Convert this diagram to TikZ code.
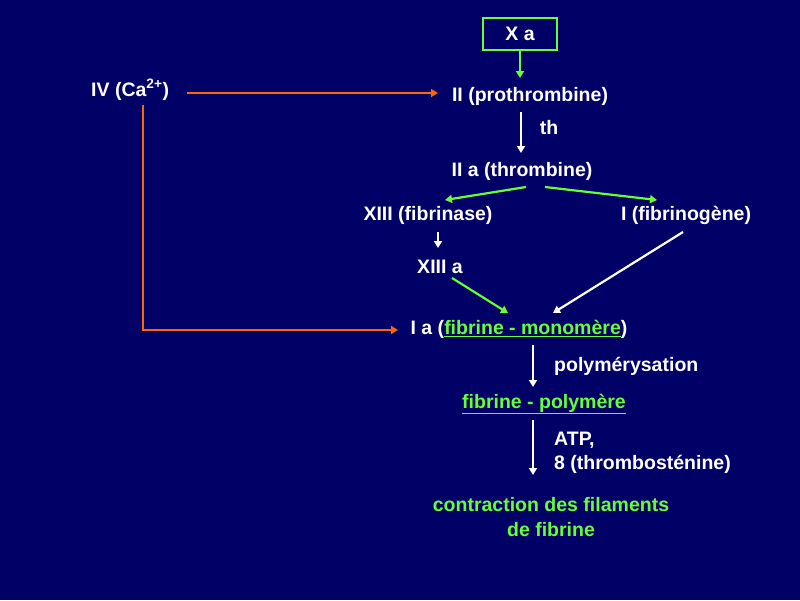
\documentclass[tikz,border=0pt]{standalone}
\usepackage{fontspec}
\setmainfont{Liberation Sans}
\usetikzlibrary{arrows.meta}
\definecolor{bg}{HTML}{000066}
\definecolor{gr}{HTML}{66FF33}
\definecolor{og}{HTML}{FF6600}
\begin{document}
\begin{tikzpicture}[x=1pt,y=-1pt,
  t/.style={text=white,font=\fontsize{19.5}{24.5}\selectfont\bfseries,inner sep=1pt},
  ga/.style={draw=gr,line width=2.2pt,-{Triangle[length=7pt,width=8pt]}},
  wa/.style={draw=white,line width=2.2pt,-{Triangle[length=7pt,width=8pt]}},
  oa/.style={draw=og,line width=2.2pt,-{Triangle[length=7pt,width=8pt]}}]
\fill[bg] (0,0) rectangle (800,600);
\useasboundingbox (0,0) rectangle (800,600);
\node[t,draw=gr,line width=2.5pt,minimum width=74pt,minimum height=32pt] (xa) at (520,34) {X a};
\node[t] (ii) at (530,96) {II (prothrombine)};
\node[t,anchor=west] (iv) at (90,90) {IV (Ca\textsuperscript{2+})};
\node[t] (iia) at (522,171) {II a (thrombine)};
\node[t] (xiii) at (428,215) {XIII (fibrinase)};
\node[t] (i) at (686,215) {I (fibrinogène)};
\node[t] (xiiia) at (440,267) {XIII a};
\node[t] (ia) at (519,329) {I a (\textcolor{gr}{\underline{fibrine - monomère}})};
\node[t,text=gr] (fp) at (544,404) {\underline{fibrine - polymère}};
\node[t,text=gr,align=center] (ct) at (551,517) {contraction des filaments\\de fibrine};
\node[t] (th) at (549,128) {th};
\node[t,anchor=west] (poly) at (553,366) {polymérysation};
\node[t,anchor=west,align=left] (atp) at (553,453) {ATP,\\8 (thrombosténine)};
\coordinate (c1) at (143,105);
\coordinate (c2) at (143,330);
\coordinate (e1) at (438,93);
\coordinate (e2) at (398,330);
\draw[ga] (xa.south) -- (520,78);
\draw[oa] (187,93) -- (e1);
\draw[wa] (521,112) -- (521,153);
\draw[ga] (526,187) -- (445,200);
\draw[ga] (545,187) -- (657,200);
\draw[wa] (438,232) -- (438,248);
\draw[ga] (452,278) -- (508,313);
\draw[wa] (683,232) -- (553,313);
\draw[oa] (c1) -- (c2) -- (e2);
\draw[wa] (533,345) -- (533,387);
\draw[wa] (533,420) -- (533,475);
\end{tikzpicture}
\end{document}
